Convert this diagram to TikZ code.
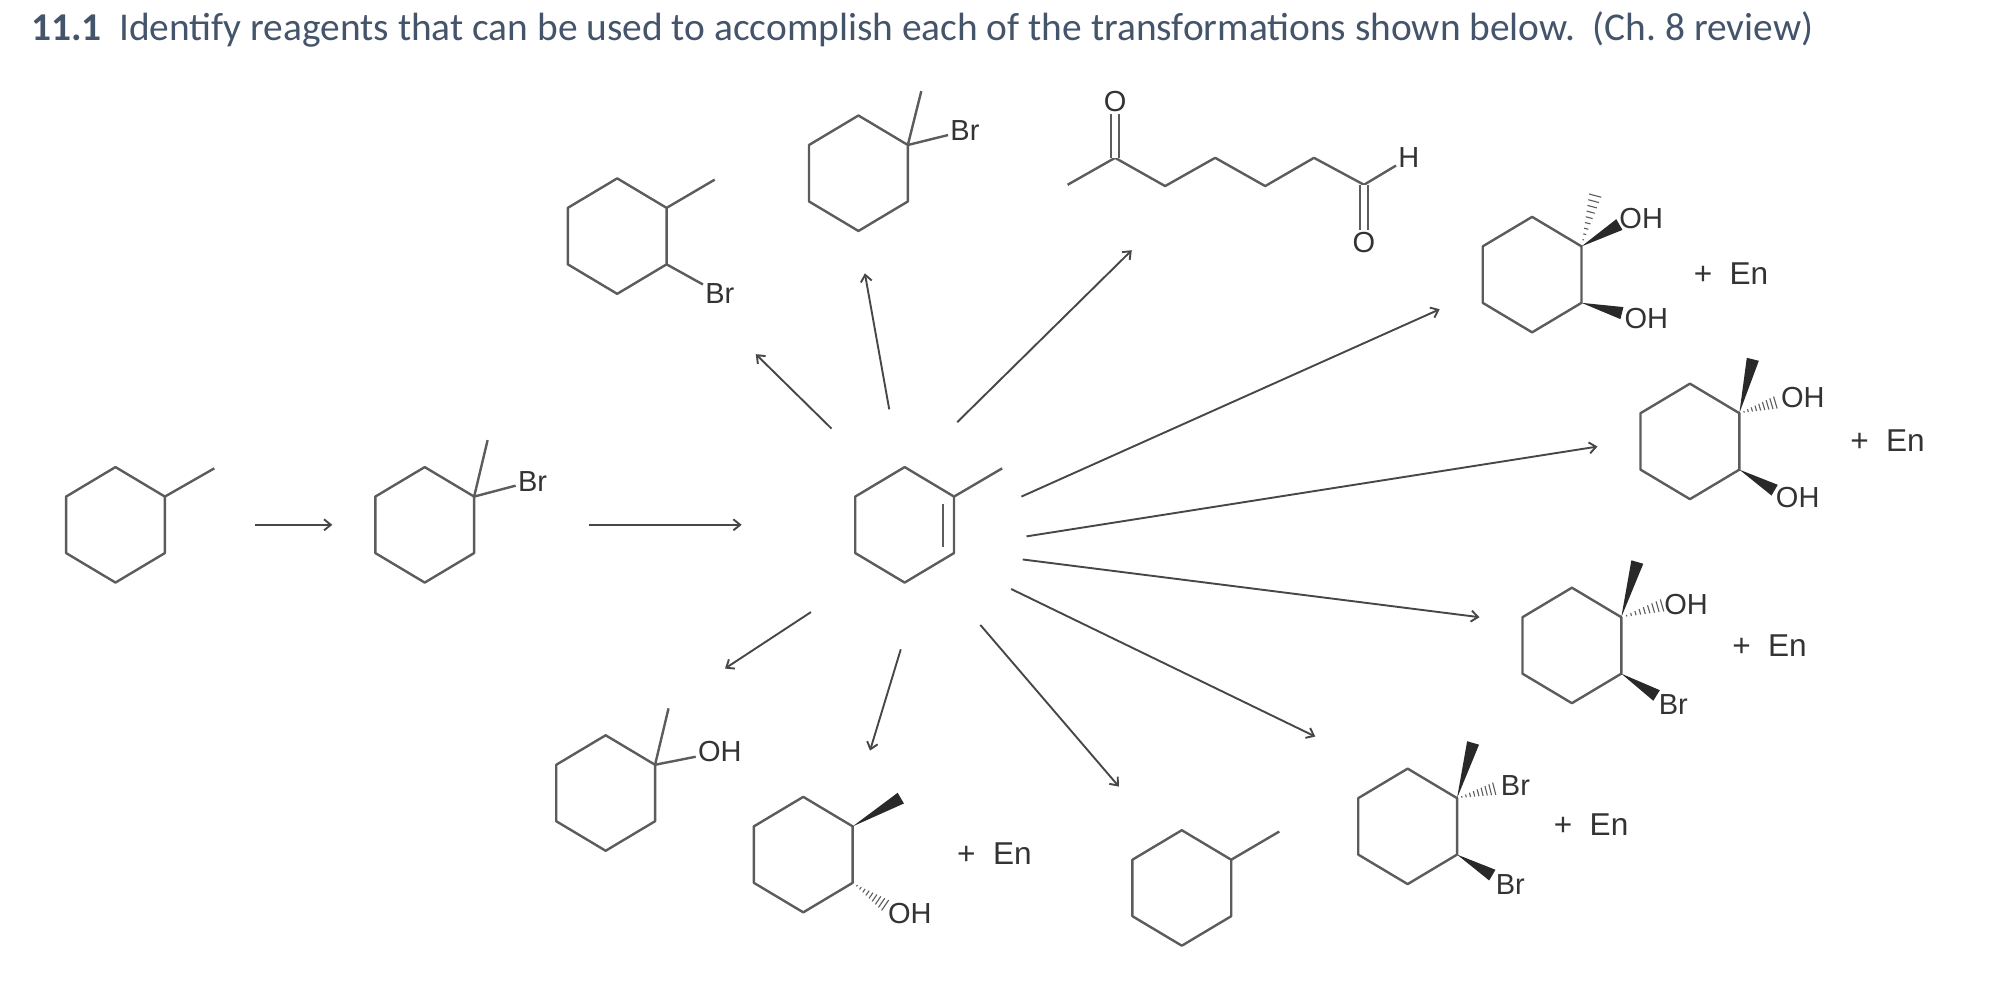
\documentclass[tikz,border=0pt]{standalone}
\usepackage{fontspec}
\setmainfont{Liberation Sans}
\newfontfamily\titlefont{Carlito}
\usetikzlibrary{calc,arrows.meta}
\definecolor{titleblue}{HTML}{44546A}
\definecolor{bondgray}{HTML}{5C5C5C}
\definecolor{atomgray}{HTML}{333333}
\newcommand{\wedgebond}[2]{\fill[atomgray!80!black] (#1) -- ($(#2)!3.1pt!90:(#1)$) -- ($(#2)!3.1pt!-90:(#1)$) -- cycle;}
\newcommand{\hashbond}[2]{\foreach \t in {0.12,0.22,...,1.0} {\draw[bondgray,line width=0.55pt] ($($(#1)!\t!(#2)$)!\t*3.4pt!90:(#2)$) -- ($($(#1)!\t!(#2)$)!\t*3.4pt!-90:(#2)$);}}
\tikzset{
  bond/.style={draw=bondgray,line width=1.2pt,line join=round},
  rxn/.style={draw=atomgray!90,line width=0.95pt,-{Straight Barb[length=3.4pt,width=5.5pt]}},
  atom/.style={font=\fontsize{14.5}{15}\selectfont,text=atomgray,inner sep=1pt},
  plusen/.style={font=\fontsize{15.8}{16}\selectfont,text=atomgray,inner sep=0pt},
  ring/.pic={
    \draw[bond] (38.5,-22) coordinate (-ne) -- (0,-45) coordinate (-n) -- (-38.5,-22) -- (-38.5,22)
      -- (0,45) -- (38.5,22) coordinate (-se) -- cycle;
  },
}
\begin{document}
\begin{tikzpicture}[x=0.6416pt,y=-0.6416pt]
  \useasboundingbox (0,0) rectangle (1568,770);

  \node [anchor=west,inner sep=0pt,text=titleblue,font=\titlefont\fontsize{19.7}{20}\selectfont] (title) at (24,23)
    {\textbf{11.1}\hspace{0.22em} Identify reagents that can be used to accomplish each of the transformations shown below.\ \ (Ch.~8 review)};

  \begin{scope}[yshift=-0.64pt]
  % starting material and first bromide
  \pic (a) at (90,408) {ring};
  \coordinate (ame) at (167,364);
  \draw[bond] (a-ne) -- (ame);
  \pic (b) at (331,408) {ring};
  \coordinate (bme) at (380,342);
  \node [atom] (bbr) at (415,374) {Br};
  \draw[bond] (b-ne) -- (bme);
  \draw[bond] (b-ne) -- (bbr);

  % alkene in the centre
  \pic (c) at (705,408) {ring};
  \coordinate (cme) at (781,364);
  \coordinate (cd1) at (735,392);
  \coordinate (cd2) at (735,425);
  \draw[bond] (c-ne) -- (cme);
  \draw[bond] (cd1) -- (cd2);

  % top row
  \pic (d) at (481,183) {ring};
  \coordinate (dme) at (557,139);
  \node [atom] (dbr) at (561,228) {Br};
  \draw[bond] (d-ne) -- (dme);
  \draw[bond] (d-se) -- (dbr);

  \pic (e) at (669,134) {ring};
  \coordinate (eme) at (718,70);
  \node [atom] (ebr) at (752,101) {Br};
  \draw[bond] (e-ne) -- (eme);
  \draw[bond] (e-ne) -- (ebr);

  \coordinate (f1) at (832,143);
  \coordinate (f2) at (869,122);
  \coordinate (f3) at (908,144);
  \coordinate (f4) at (947,122);
  \coordinate (f5) at (986,144);
  \coordinate (f6) at (1024,122);
  \coordinate (f7) at (1063,143);
  \node [atom] (fo1) at (869,78) {O};
  \node [atom] (fo2) at (1063,188) {O};
  \node [atom] (fh) at (1098,122) {H};
  \draw[bond] (f1) -- (f2) -- (f3) -- (f4) -- (f5) -- (f6) -- (f7) -- (fh);
  \draw[bond,double=white,double distance=2.6pt,line width=1pt] (f2) -- (fo1);
  \draw[bond,double=white,double distance=2.6pt,line width=1pt] (f7) -- (fo2);

  % diol, methyl hashed
  \pic (g) at (1194,213) {ring};
  \coordinate (gme) at (1244,148);
  \coordinate (gw1) at (1262,174);
  \coordinate (gw2) at (1264,243);
  \node [atom] (goh1) at (1279,169) {OH};
  \node [atom] (goh2) at (1283,247) {OH};
  \hashbond{g-ne}{gme}
  \wedgebond{g-ne}{gw1}
  \wedgebond{g-se}{gw2}
  \node [plusen] (gen) at (1349,212) {+\hspace{0.55em}En};

  % diol, methyl wedged
  \pic (h) at (1317,343) {ring};
  \coordinate (hme) at (1366,279);
  \coordinate (hw) at (1383,381);
  \coordinate (hh) at (1386,312);
  \node [atom] (hoh1) at (1405,309) {OH};
  \node [atom] (hoh2) at (1401,387) {OH};
  \wedgebond{h-ne}{hme}
  \hashbond{h-ne}{hh}
  \wedgebond{h-se}{hw}
  \node [plusen] (hen) at (1471,342) {+\hspace{0.55em}En};

  % bromohydrin
  \pic (i) at (1225,502) {ring};
  \coordinate (ime) at (1276,437);
  \coordinate (ih) at (1298,470);
  \coordinate (iw) at (1291,541);
  \node [atom] (ioh) at (1314,470) {OH};
  \node [atom] (ibr) at (1304,548) {Br};
  \wedgebond{i-ne}{ime}
  \hashbond{i-ne}{ih}
  \wedgebond{i-se}{iw}
  \node [plusen] (ien) at (1379,502) {+\hspace{0.55em}En};

  % dibromide
  \pic (j) at (1097,643) {ring};
  \coordinate (jme) at (1148,578);
  \coordinate (jh) at (1167,613);
  \coordinate (jw) at (1163,681);
  \node [atom] (jbr1) at (1181,611) {Br};
  \node [atom] (jbr2) at (1177,688) {Br};
  \wedgebond{j-ne}{jme}
  \hashbond{j-ne}{jh}
  \wedgebond{j-se}{jw}
  \node [plusen] (jen) at (1240,642) {+\hspace{0.55em}En};

  % bottom row
  \pic (k) at (921,691) {ring};
  \coordinate (kme) at (997,647);
  \draw[bond] (k-ne) -- (kme);

  \pic (l) at (626,665) {ring};
  \coordinate (lme) at (702,621);
  \coordinate (lh) at (692,706);
  \node [atom] (loh) at (709,711) {OH};
  \wedgebond{l-ne}{lme}
  \hashbond{l-se}{lh}
  \node [plusen] (len) at (775,664) {+\hspace{0.55em}En};

  \pic (m) at (472,617) {ring};
  \coordinate (mme) at (521,551);
  \node [atom] (moh) at (561,585) {OH};
  \draw[bond] (m-ne) -- (mme);
  \draw[bond] (m-ne) -- (moh);

  % arrows
  \coordinate (r1a) at (199,408);  \coordinate (r1b) at (259,408);
  \coordinate (r2a) at (459,408);  \coordinate (r2b) at (578,408);
  \coordinate (r3a) at (648,333);  \coordinate (r3b) at (589,275);
  \coordinate (r4a) at (693,318);  \coordinate (r4b) at (674,212);
  \coordinate (r5a) at (746,328);  \coordinate (r5b) at (882,194);
  \coordinate (r6a) at (796,386);  \coordinate (r6b) at (1122,240);
  \coordinate (r7a) at (800,417);  \coordinate (r7b) at (1245,347);
  \coordinate (r8a) at (797,435);  \coordinate (r8b) at (1153,480);
  \coordinate (r9a) at (788,458);  \coordinate (r9b) at (1025,573);
  \coordinate (r10a) at (764,486); \coordinate (r10b) at (872,612);
  \coordinate (r11a) at (702,505); \coordinate (r11b) at (678,584);
  \coordinate (r12a) at (632,476); \coordinate (r12b) at (565,520);
  \foreach \n in {1,...,12} {
    \draw[rxn] (r\n a) -- (r\n b);
  }
  \end{scope}
\end{tikzpicture}
\end{document}
